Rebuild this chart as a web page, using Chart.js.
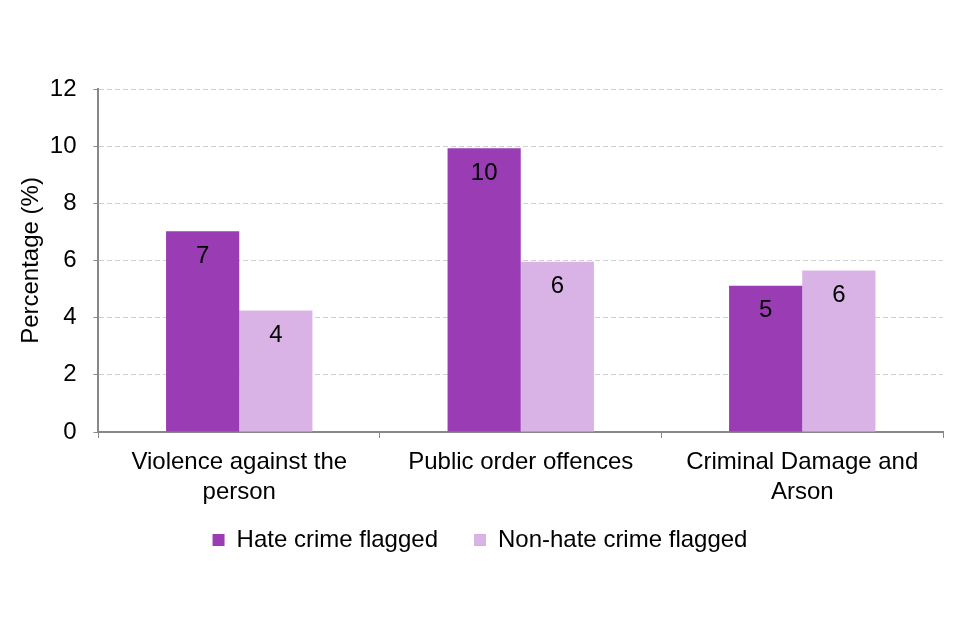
<!DOCTYPE html>
<html>
<head>
<meta charset="utf-8">
<script src="https://cdn.jsdelivr.net/npm/chart.js@4/dist/chart.umd.min.js"></script>
<style>
  html, body { margin: 0; padding: 0; background: #fff; }
  #wrap { width: 960px; height: 640px; }
</style>
</head>
<body>
<div id="wrap"><canvas id="chart" width="960" height="640"></canvas></div>
<script>
const categories = [['Violence against the', 'person'], ['Public order offences'], ['Criminal Damage and', 'Arson']];
const hateValues = [7.02, 9.93, 5.12];
const nonHateValues = [4.25, 5.96, 5.65];
const yTicks = [0, 2, 4, 6, 8, 10, 12];

const FONT = 'Liberation Sans, Arial, sans-serif';
const SIZE = 24;

// writes the rounded value inside the top of each bar
const barLabels = {
    id: 'barLabels',
    afterDatasetsDraw(chart) {
        const ctx = chart.ctx;
        ctx.save();
        ctx.font = SIZE + 'px ' + FONT;
        ctx.fillStyle = '#000';
        ctx.textAlign = 'center';
        ctx.textBaseline = 'middle';
        chart.data.datasets.forEach((ds, i) => {
            chart.getDatasetMeta(i).data.forEach((bar, j) => {
                ctx.fillText(Math.round(ds.data[j]), bar.x, bar.y + 25);
            });
        });
        ctx.restore();
    }
};

// legend padding is big for the gap between items, pull the row up a bit
const legendLift = {
    id: 'legendLift',
    afterLayout(chart) {
        chart.legend.top -= 24;
        chart.legend.bottom -= 24;
    }
};

const ctx = document.getElementById('chart').getContext('2d');
const chart = new Chart(ctx, {
    type: 'bar',
    data: {
        labels: categories,
        datasets: [
            {
                label: 'Hate crime flagged',
                data: hateValues,
                backgroundColor: '#9a3db4',
                categoryPercentage: 0.52,
                barPercentage: 1
            },
            {
                label: 'Non-hate crime flagged',
                data: nonHateValues,
                backgroundColor: '#dab3e6',
                categoryPercentage: 0.52,
                barPercentage: 1
            }
        ]
    },
    options: {
        responsive: false,
        animation: false,
        layout: { padding: { top: 89, right: 17, left: 17, bottom: 54 } },
        plugins: {
            tooltip: { enabled: false },
            legend: {
                position: 'bottom',
                labels: {
                    font: { family: FONT, size: SIZE },
                    color: '#000',
                    boxWidth: 12,
                    boxHeight: 12,
                    padding: 36
                }
            }
        },
        scales: {
            x: {
                grid: {
                    offset: true,
                    drawOnChartArea: false,
                    color: '#888',
                    tickLength: 6
                },
                border: { color: '#888', width: 2 },
                ticks: {
                    font: { family: FONT, size: SIZE, lineHeight: 1.25 },
                    color: '#000',
                    padding: 9
                }
            },
            y: {
                min: 0,
                max: 12,
                afterBuildTicks(axis) {
                    axis.ticks = yTicks.map(v => ({ value: v }));
                },
                afterFit(axis) {
                    axis.width -= 19;
                },
                grid: {
                    color: '#d0d0d0',
                    tickColor: '#888',
                    tickLength: 5,
                    tickBorderDash: []
                },
                border: { color: '#888', width: 2, dash: [5, 3] },
                ticks: {
                    font: { family: FONT, size: SIZE },
                    color: '#000',
                    padding: 17
                },
                title: {
                    display: true,
                    text: 'Percentage (%)',
                    font: { family: FONT, size: SIZE },
                    color: '#000',
                    padding: { top: 0, bottom: 6 }
                }
            }
        }
    },
    plugins: [barLabels, legendLift]
});
</script>
</body>
</html>
